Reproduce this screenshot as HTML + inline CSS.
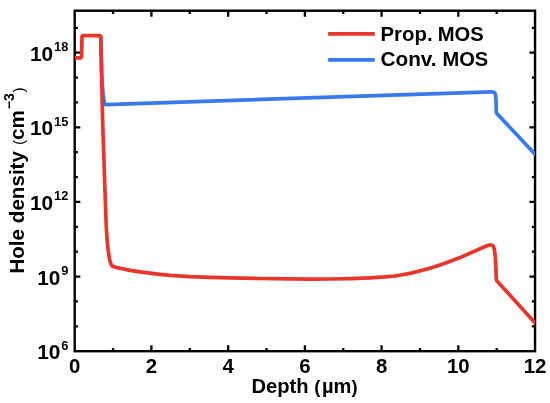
<!DOCTYPE html>
<html><head><meta charset="utf-8"><title>Hole density vs depth</title>
<style>
html,body{margin:0;padding:0;background:#fff;}
svg{display:block;}
text{font-family:"Liberation Sans",Arial,Helvetica,sans-serif;font-weight:bold;fill:#000;}
</style></head><body>
<svg width="550" height="403" viewBox="0 0 550 403">
<rect width="550" height="403" fill="#fff"/>
<rect x="74.70" y="10.70" width="460.35" height="340.50" fill="none" stroke="#000" stroke-width="2.4"/>
<path d="M113.06 351.20v-3.20M113.06 10.70v3.20M151.43 351.20v-6.00M151.43 10.70v6.00M189.79 351.20v-3.20M189.79 10.70v3.20M228.15 351.20v-6.00M228.15 10.70v6.00M266.51 351.20v-3.20M266.51 10.70v3.20M304.88 351.20v-6.00M304.88 10.70v6.00M343.24 351.20v-3.20M343.24 10.70v3.20M381.60 351.20v-6.00M381.60 10.70v6.00M419.96 351.20v-3.20M419.96 10.70v3.20M458.32 351.20v-6.00M458.32 10.70v6.00M496.69 351.20v-3.20M496.69 10.70v3.20M74.70 326.32h3.20M535.05 326.32h-3.20M74.70 301.45h3.20M535.05 301.45h-3.20M74.70 276.57h5.60M535.05 276.57h-5.60M74.70 251.70h3.20M535.05 251.70h-3.20M74.70 226.82h3.20M535.05 226.82h-3.20M74.70 201.95h5.60M535.05 201.95h-5.60M74.70 177.07h3.20M535.05 177.07h-3.20M74.70 152.20h3.20M535.05 152.20h-3.20M74.70 127.32h5.60M535.05 127.32h-5.60M74.70 102.45h3.20M535.05 102.45h-3.20M74.70 77.57h3.20M535.05 77.57h-3.20M74.70 52.70h5.60M535.05 52.70h-5.60M74.70 27.82h3.20M535.05 27.82h-3.20" stroke="#000" stroke-width="2.3" fill="none"/>
<clipPath id="ax"><rect x="74.70" y="10.70" width="460.35" height="340.50"/></clipPath>
<g clip-path="url(#ax)">
<polyline points="100.7,36.5 101.3,60.0 101.6,72.0 102.3,85.0 103.3,96.0 104.3,102.5 104.9,104.4 106.2,104.6 491.5,91.8 493.4,92.0 494.8,93.0 495.6,95.0 496.0,100.0 496.3,112.0 496.6,113.2 536.0,155.3" fill="none" stroke="#3879EE" stroke-width="3.7" stroke-linejoin="round" stroke-linecap="butt"/>
<polyline points="74.7,57.9 81.0,57.9 81.6,56.9 82.0,36.5 82.7,35.6 100.0,35.6 100.7,36.5 101.3,60.0 102.6,120.0 104.6,180.0 106.4,230.0 107.3,242.0 108.1,250.0 109.7,260.0 110.9,264.0 112.4,266.2 115.0,267.1 120.0,268.2 130.0,270.4 140.0,271.9 150.0,273.2 160.0,274.4 170.0,275.4 190.0,276.7 210.0,277.3 230.0,277.8 260.0,278.5 290.0,278.9 310.0,279.1 330.0,279.0 350.0,278.6 370.0,277.8 385.0,276.9 395.0,276.0 410.0,273.4 430.0,268.3 445.0,263.2 460.0,257.6 480.0,248.8 487.0,245.8 489.5,245.0 491.5,245.0 493.2,246.0 494.3,249.0 495.3,257.0 496.0,270.0 496.3,279.0 496.7,280.7 536.0,323.9" fill="none" stroke="#E8362A" stroke-width="3.7" stroke-linejoin="round" stroke-linecap="butt"/>
</g>
<text transform="translate(74.70,373.00) scale(1,1.000)" font-size="20.40" text-anchor="middle">0</text>
<text transform="translate(151.43,373.00) scale(1,1.000)" font-size="20.40" text-anchor="middle">2</text>
<text transform="translate(228.15,373.00) scale(1,1.000)" font-size="20.40" text-anchor="middle">4</text>
<text transform="translate(304.88,373.00) scale(1,1.000)" font-size="20.40" text-anchor="middle">6</text>
<text transform="translate(381.60,373.00) scale(1,1.000)" font-size="20.40" text-anchor="middle">8</text>
<text transform="translate(458.32,373.00) scale(1,1.000)" font-size="20.40" text-anchor="middle">10</text>
<text transform="translate(535.05,373.00) scale(1,1.000)" font-size="20.40" text-anchor="middle">12</text>
<text x="37.14" y="359.20" font-size="20.80">10<tspan x="61.18" y="349.60" font-size="12.80">6</tspan></text>
<text x="37.14" y="284.57" font-size="20.80">10<tspan x="61.18" y="274.97" font-size="12.80">9</tspan></text>
<text x="30.02" y="209.95" font-size="20.80">10<tspan x="54.06" y="200.35" font-size="12.80">12</tspan></text>
<text x="30.02" y="135.32" font-size="20.80">10<tspan x="54.06" y="125.72" font-size="12.80">15</tspan></text>
<text x="30.02" y="60.70" font-size="20.80">10<tspan x="54.06" y="51.10" font-size="12.80">18</tspan></text>
<text x="251.45" y="392.6" font-size="20.15">Depth <tspan x="314.3" y="393.3" font-size="18.4">(</tspan><tspan x="322" y="392.6" font-size="20.1">µm</tspan><tspan x="351.6" y="393.3" font-size="18.4">)</tspan></text>
<g transform="translate(23.8,273.6) rotate(-90)">
<text x="0" y="0" font-size="20.62">Hole density <tspan x="128.6" font-size="15.5" style="font-weight:normal">(</tspan><tspan x="133.6" font-size="20.62">cm</tspan><tspan x="164.4" y="-9.6" font-size="14">−3</tspan><tspan x="181" y="0" font-size="15.5" style="font-weight:normal">)</tspan></text>
</g>
<path d="M328.2 33.9H374.8" stroke="#E8362A" stroke-width="3.7"/>
<path d="M328.2 59.9H374.8" stroke="#3879EE" stroke-width="3.7"/>
<text x="380.5" y="40.9" font-size="20.4">Prop. <tspan x="437.65" font-size="20.2">MOS</tspan></text>
<text x="380.5" y="66.1" font-size="20.74">Conv. <tspan x="442.45" font-size="20.13">MOS</tspan></text>
</svg>
</body></html>
